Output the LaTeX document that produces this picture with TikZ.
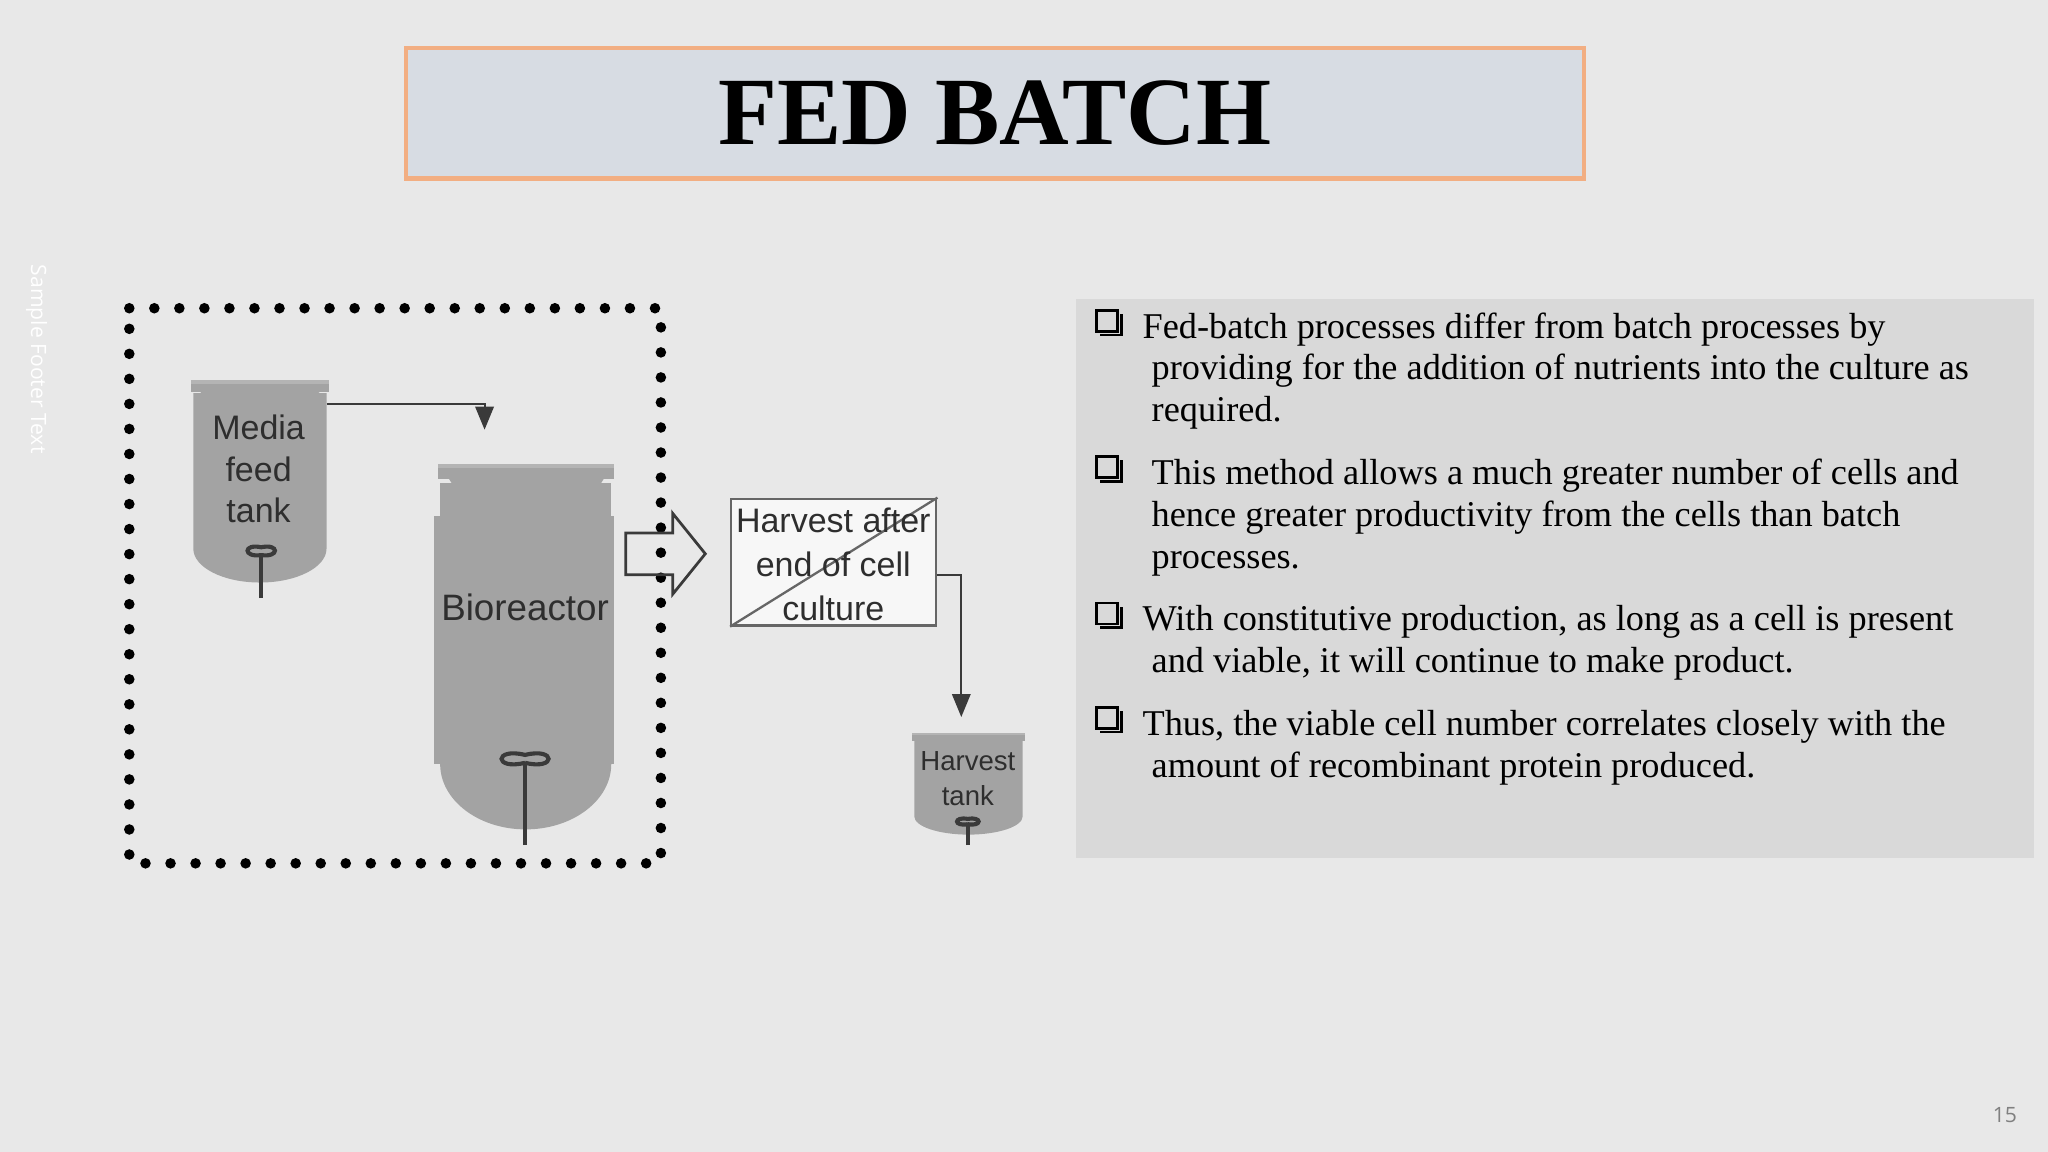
\documentclass[tikz,border=0pt]{standalone}
\usepackage{fontspec}
\setmainfont{Liberation Serif}
\newfontfamily\dsans{Liberation Sans}
\newfontfamily\osans{Open Sans}
\usetikzlibrary{arrows.meta}
\definecolor{bg}{HTML}{E8E8E8}
\definecolor{titlefill}{HTML}{D7DCE3}
\definecolor{titleline}{HTML}{F2AE82}
\definecolor{panel}{HTML}{D9D9D9}
\definecolor{tank}{HTML}{A3A3A3}
\definecolor{tankband}{HTML}{B4B4B4}
\definecolor{dtext}{HTML}{2E2E2E}
\definecolor{pline}{HTML}{3A3A3A}
\tikzset{
  tankfill/.style={fill=tank,draw=none},
  dlabel/.style={font=\dsans\fontsize{7.4}{8}\selectfont,text=dtext,align=center,inner sep=0pt},
  blt/.style={font=\fontsize{7.9}{9.1}\selectfont,anchor=north west,align=left,inner sep=0pt,text=black},
  pipe/.style={draw=pline,line width=0.45pt},
  stir/.style={draw=pline,line width=0.9pt},
}
\newcommand{\bsq}{\raisebox{0.05em}{\tikz\draw[line width=0.55pt] (0,0) rectangle (0.58em,0.58em) (0.1em,-0.1em)--(0.68em,-0.1em)--(0.68em,0.48em);}}
\begin{document}
\begin{tikzpicture}[x=0.01cm,y=-0.01cm]
\useasboundingbox (0,0) rectangle (1568,882);
\fill[bg] (0,0) rectangle (1568,882);
% title
\node[draw=titleline,line width=1pt,fill=titlefill,minimum width=902*0.01cm,minimum height=100*0.01cm,anchor=north west,inner sep=0pt] (title) at (309,35) {};
\node[font=\bfseries\fontsize{21}{24}\selectfont] (ttext) at (title.center) {FED BATCH};
% panel
\fill[panel] (824,229) rectangle (1557,657);
\node[blt] (b1) at (838,236) {\bsq\hspace{0.55em}Fed-batch processes differ from batch processes by\\\hspace{1.55em}providing for the addition of nutrients into the culture as\\\hspace{1.55em}required.};
\node[blt] (b2) at (838,348) {\bsq\hspace{0.8em}This method allows a much greater number of cells and\\\hspace{1.55em}hence greater productivity from the cells than batch\\\hspace{1.55em}processes.};
\node[blt] (b3) at (838,460) {\bsq\hspace{0.55em}With constitutive production, as long as a cell is present\\\hspace{1.55em}and viable, it will continue to make product.};
\node[blt] (b4) at (838,540) {\bsq\hspace{0.55em}Thus, the viable cell number correlates closely with the\\\hspace{1.55em}amount of recombinant protein produced.};
% dotted frame
\draw[line width=2.3pt,line cap=round,dash pattern=on 0pt off 5.45pt] (99,236) -- (506,236) -- (506,661) -- (99,661) -- cycle;
% media feed tank
\fill[tankfill] (149,292) arc[start angle=180,end angle=0,x radius=50,y radius=20] -- cycle;
\fill[tankband] (146,291) rectangle (252,294);
\fill[tankfill] (146,294) rectangle (252,300);
\fill[tankfill] (148,301) -- (250,301) -- (250,420) arc[start angle=0,end angle=-180,x radius=51,y radius=-26] -- cycle;
\node[dlabel] (mft) at (198,359) {Media\\[1pt]feed\\[1pt]tank};
\draw[stir] (200,458) -- (200,425);
\draw[stir] (200,425) .. controls (186,427) and (186,416) .. (200,419) .. controls (214,416) and (214,427) .. (200,425);
% bioreactor
\fill[tankfill] (341,356) arc[start angle=180,end angle=0,x radius=62,y radius=36] -- cycle;
\fill[tankband] (335,355) rectangle (470,358);
\fill[tankfill] (335,358) rectangle (470,367);
\fill[tankfill] (337,370) rectangle (468,395);
\fill[tankfill] (332,395) rectangle (470,585);
\fill[tankfill] (337,585) -- (468,585) arc[start angle=0,end angle=-180,x radius=65.5,y radius=-50] -- cycle;
\node[dlabel,font=\dsans\fontsize{8}{9}\selectfont] (bio) at (402,465) {Bioreactor};
\draw[stir] (402,647) -- (402,584);
\draw[stir] (402,584) .. controls (378,590) and (378,572) .. (402,578) .. controls (426,572) and (426,590) .. (402,584);
\coordinate (fin) at (250,309);
\coordinate (fin2) at (371,309);
\coordinate (bioin) at (371,329);
\draw[pipe,-{Triangle[length=5pt,width=4pt]}] (fin) -- (fin2) -- (bioin);
% hollow arrow
\draw[draw=pline,line width=0.6pt,fill=bg,fill opacity=0] (479,408) -- (515,408) -- (515,393) -- (540,424) -- (515,455) -- (515,440) -- (479,440) -- cycle;
% harvest box
\node[draw=gray!80!black,line width=0.5pt,fill=white!94!gray,minimum width=157*0.01cm,minimum height=97*0.01cm,anchor=north west,inner sep=0pt] (hb) at (559,381) {};
\draw[gray!80!black,line width=0.5pt] (hb.south west) -- (hb.north east);
\node[dlabel] (hbt) at (638,432) {Harvest after\\[1.6pt]end of cell\\[1.6pt]culture};
% harvest tank
\fill[tankfill] (702,562) arc[start angle=180,end angle=0,x radius=39,y radius=12] -- cycle;
\fill[tankband] (698,561) rectangle (785,563);
\fill[tankfill] (698,563) rectangle (785,567);
\fill[tankfill] (700,567) -- (783,567) -- (783,625) arc[start angle=0,end angle=-180,x radius=41.5,y radius=-14] -- cycle;
\node[dlabel,font=\dsans\fontsize{6}{6.5}\selectfont] (ht) at (741,596) {Harvest\\[1pt]tank};
\draw[stir] (741,647) -- (741,631);
\draw[stir] (741,631) .. controls (730,633) and (730,625) .. (741,627) .. controls (752,625) and (752,633) .. (741,631);
\coordinate (hbout) at (736,440);
\coordinate (htin) at (736,549);
\draw[pipe,-{Triangle[length=5pt,width=4pt]}] (hb.east |- hbout) -- (hbout) -- (htin);
% footer and page number
\node[font=\osans\fontsize{4.6}{5}\selectfont,text=white,rotate=-90] (foot) at (28,275) {Sample Footer Text};
\node[font=\osans\fontsize{4.6}{5}\selectfont,text=gray] (pg) at (1535,854) {15};
\end{tikzpicture}
\end{document}
